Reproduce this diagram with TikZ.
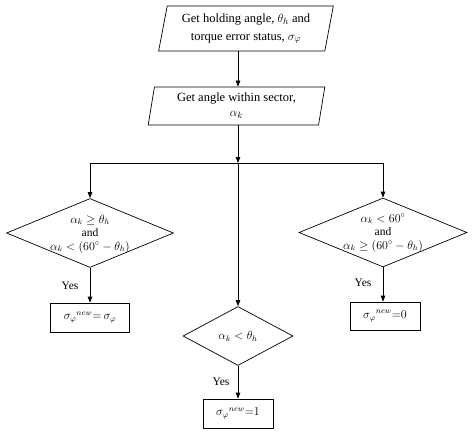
\documentclass[tikz,border=0pt]{standalone}
\usepackage{fontspec}
\setmainfont{Liberation Serif}
\usetikzlibrary{shapes.geometric,arrows.meta}
\begin{document}
\begin{tikzpicture}[x=1pt,y=-1pt,
  font=\fontsize{11.5}{14}\selectfont,
  line width=0.7pt,
  arr/.style={-{Triangle[length=6pt,width=4.5pt]}},
  io/.style={draw, trapezium, trapezium stretches=true, inner sep=0pt, align=center},
  dec/.style={draw, diamond, inner sep=0pt},
  res/.style={draw, rectangle, inner sep=0pt},
  txt/.style={align=center, inner sep=0pt}]
\useasboundingbox (0,0) rectangle (474,437);
\fill[white] (0,0) rectangle (474,437);
\coordinate (cx) at (238,0);
\node[io, trapezium left angle=77, trapezium right angle=103, minimum width=175pt, minimum height=45pt, font=\fontsize{12.5}{18}\selectfont] (top) at (246,28.5) {Get holding angle, $\theta_h$ and\\ torque error status, $\sigma_{\varphi}$};
\node[io, trapezium left angle=80, trapezium right angle=100, minimum width=177pt, minimum height=38pt, font=\fontsize{12.5}{15}\selectfont] (get) at (236.5,106) {Get angle within sector,\\ $\alpha_k$};
\coordinate (j) at (238,163);
\node[dec, minimum width=167pt, minimum height=69pt] (L) at (90,233) {};
\node[txt, font=\fontsize{11.5}{13.5}\selectfont] (Lt) at (90,234) {$\alpha_k \geq \theta_h$\\ and\\ $\alpha_k < (60^\circ - \theta_h)$};
\node[dec, minimum width=168pt, minimum height=69pt] (R) at (383,232.5) {};
\node[txt, font=\fontsize{11.5}{13.5}\selectfont] (Rt) at (383,233) {$\alpha_k < 60^\circ$\\ and\\ $\alpha_k \geq (60^\circ - \theta_h)$};
\node[dec, minimum width=110pt, minimum height=59pt] (M) at (238,336) {};
\node[txt] (Mt) at (238,336) {$\alpha_k < \theta_h$};
\node[res, minimum width=79pt, minimum height=29pt] (Lb) at (90,317.5) {$\sigma_{\varphi}{}^{new}\mathord{=}\, \sigma_{\varphi}$};
\node[res, minimum width=70pt, minimum height=28pt] (Rb) at (385,316) {$\sigma_{\varphi}{}^{new}\mathord{=}0$};
\node[res, minimum width=70pt, minimum height=29pt] (Mb) at (238,413.5) {$\sigma_{\varphi}{}^{new}\mathord{=}1$};
\node[txt] (yl) at (70,286) {Yes};
\node[txt] (yr) at (363,283) {Yes};
\node[txt] (ym) at (221,382) {Yes};
\draw[arr] (top.south -| cx) -- (get.north -| cx);
\draw[arr] (get.south -| cx) -- (j);
\draw[arr] (j) -| (L.north);
\draw[arr] (j) -| (R.north);
\draw[arr] (j) -- (M.north);
\draw[arr] (L.south) -- (Lb.north);
\draw[arr] (R.south) -- (R.south |- Rb.north);
\draw[arr] (M.south) -- (Mb.north);
\end{tikzpicture}
\end{document}
